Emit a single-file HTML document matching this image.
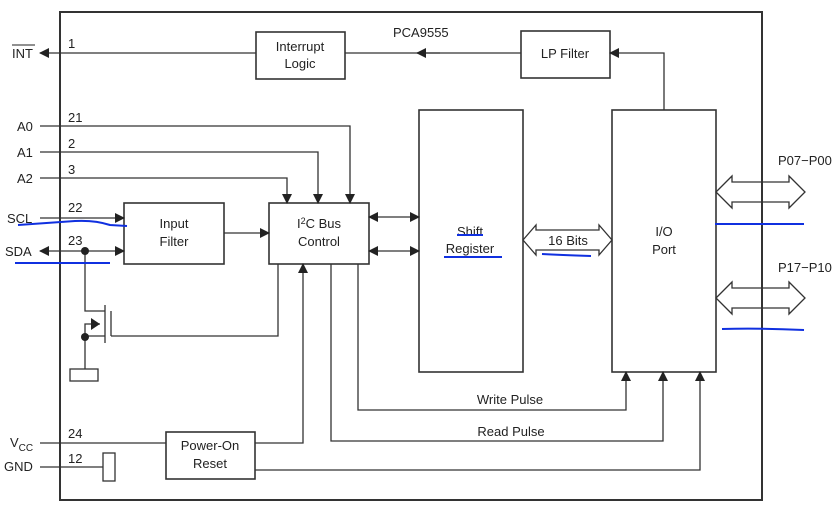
<!DOCTYPE html>
<html><head><meta charset="utf-8"><style>
html,body{margin:0;padding:0;background:#fff;}
svg{display:block;font-family:"Liberation Sans",Arial,sans-serif;}
</style></head><body>
<svg width="840" height="528" viewBox="0 0 840 528" xmlns="http://www.w3.org/2000/svg">
<defs>
<marker id="a" markerWidth="10" markerHeight="10" refX="9" refY="5" orient="auto" markerUnits="userSpaceOnUse"><path d="M0,0 L10,5 L0,10 Z" fill="#222"/></marker>
<marker id="b" markerWidth="10" markerHeight="10" refX="1" refY="5" orient="auto" markerUnits="userSpaceOnUse"><path d="M10,0 L0,5 L10,10 Z" fill="#222"/></marker>
</defs>
<g fill="none" stroke="#333" stroke-width="1.3">
<rect x="60" y="12" width="702" height="488" stroke-width="2"/>
<rect x="256" y="32" width="89" height="47" stroke-width="1.6"/>
<rect x="521" y="31" width="89" height="47" stroke-width="1.6"/>
<rect x="419" y="110" width="104" height="262" stroke-width="1.6"/>
<rect x="612" y="110" width="104" height="262" stroke-width="1.6"/>
<rect x="124" y="203" width="100" height="61" stroke-width="1.6"/>
<rect x="269" y="203" width="100" height="61" stroke-width="1.6"/>
<rect x="166" y="432" width="89" height="47" stroke-width="1.6"/>
<rect x="103" y="453" width="12" height="28"/>
<rect x="70" y="369" width="28" height="12"/>
<line x1="256" y1="53" x2="40" y2="53" marker-end="url(#a)"/>
<line x1="521" y1="53" x2="345" y2="53"/>
<line x1="440" y1="53" x2="417" y2="53" marker-end="url(#a)"/>
<polyline points="664,110 664,53 610,53" marker-end="url(#a)"/>
<polyline points="40,126 350,126 350,203" marker-end="url(#a)"/>
<polyline points="40,152 318,152 318,203" marker-end="url(#a)"/>
<polyline points="40,178 287,178 287,203" marker-end="url(#a)"/>
<line x1="40" y1="218" x2="124" y2="218" marker-end="url(#a)"/>
<line x1="40" y1="251" x2="124" y2="251" marker-start="url(#b)" marker-end="url(#a)"/>
<line x1="224" y1="233" x2="269" y2="233" marker-end="url(#a)"/>
<line x1="369" y1="217" x2="419" y2="217" marker-start="url(#b)" marker-end="url(#a)"/>
<line x1="369" y1="251" x2="419" y2="251" marker-start="url(#b)" marker-end="url(#a)"/>
<polyline points="85,251 85,311 105,311"/>
<line x1="105" y1="305" x2="105" y2="343"/>
<line x1="111" y1="311" x2="111" y2="336"/>
<polyline points="111,336 278,336 278,264"/>
<polyline points="85,336 85,324 100,324"/>
<polyline points="85,336 105,336"/>
<line x1="85" y1="336" x2="85" y2="369"/>
<polyline points="40,443 166,443"/>
<polyline points="255,443 303,443 303,264" marker-end="url(#a)"/>
<polyline points="255,470 700,470 700,372" marker-end="url(#a)"/>
<polyline points="331,264 331,441 663,441 663,372" marker-end="url(#a)"/>
<polyline points="358,264 358,410 626,410 626,372" marker-end="url(#a)"/>
<line x1="40" y1="467" x2="103" y2="467"/>
<path d="M523,240 L536,225 L536,230 L599,230 L599,225 L612,240 L599,255 L599,250 L536,250 L536,255 Z"/>
<path d="M716,192 L732,176 L732,182 L789,182 L789,176 L805,192 L789,208 L789,202 L732,202 L732,208 Z"/>
<path d="M716,298 L732,282 L732,288 L789,288 L789,282 L805,298 L789,314 L789,308 L732,308 L732,314 Z"/>
</g>
<path d="M91,318 L100,324 L91,330 Z" fill="#222"/>
<circle cx="85" cy="251" r="4" fill="#222"/>
<circle cx="85" cy="337" r="4" fill="#222"/>
<g fill="#222" font-size="13">
<text x="12" y="58">INT</text>
<line x1="12" y1="45" x2="35" y2="45" stroke="#222" stroke-width="1"/>
<text x="17" y="131">A0</text><text x="17" y="157">A1</text><text x="17" y="183">A2</text>
<text x="7" y="223">SCL</text><text x="5" y="256">SDA</text>
<text x="10" y="447">V<tspan font-size="10" dy="4">CC</tspan></text>
<text x="4" y="471">GND</text>
<text x="68" y="48">1</text><text x="68" y="122">21</text><text x="68" y="148">2</text><text x="68" y="174">3</text>
<text x="68" y="212">22</text><text x="68" y="245">23</text><text x="68" y="438">24</text><text x="68" y="463">12</text>
<text x="393" y="37">PCA9555</text>
<text x="300" y="51" text-anchor="middle">Interrupt</text><text x="300" y="68" text-anchor="middle">Logic</text>
<text x="565" y="58" text-anchor="middle">LP Filter</text>
<text x="174" y="228" text-anchor="middle">Input</text><text x="174" y="246" text-anchor="middle">Filter</text>
<text x="319" y="228" text-anchor="middle">I<tspan font-size="9" dy="-4">2</tspan><tspan dy="4">C Bus</tspan></text><text x="319" y="246" text-anchor="middle">Control</text>
<text x="470" y="236" text-anchor="middle">Shift</text><text x="470" y="253" text-anchor="middle">Register</text>
<text x="568" y="245" text-anchor="middle">16 Bits</text>
<text x="664" y="236" text-anchor="middle">I/O</text><text x="664" y="254" text-anchor="middle">Port</text>
<text x="778" y="165">P07−P00</text><text x="778" y="272">P17−P10</text>
<text x="210" y="450" text-anchor="middle">Power-On</text><text x="210" y="468" text-anchor="middle">Reset</text>
<text x="510" y="404" text-anchor="middle">Write Pulse</text><text x="511" y="436" text-anchor="middle">Read Pulse</text>
</g>
<g fill="none" stroke="#1030e0" stroke-width="2">
<path d="M18,225 Q60,222 75,221 Q95,220 110,225 L127,226"/>
<line x1="15" y1="263" x2="110" y2="263"/>
<line x1="444" y1="257" x2="502" y2="257"/>
<line x1="457" y1="235" x2="483" y2="235"/>
<path d="M542,254 Q560,255 591,256"/>
<line x1="715" y1="224" x2="804" y2="224"/>
<path d="M722,329 Q760,328 804,330"/>
</g>
</svg>
</body></html>
